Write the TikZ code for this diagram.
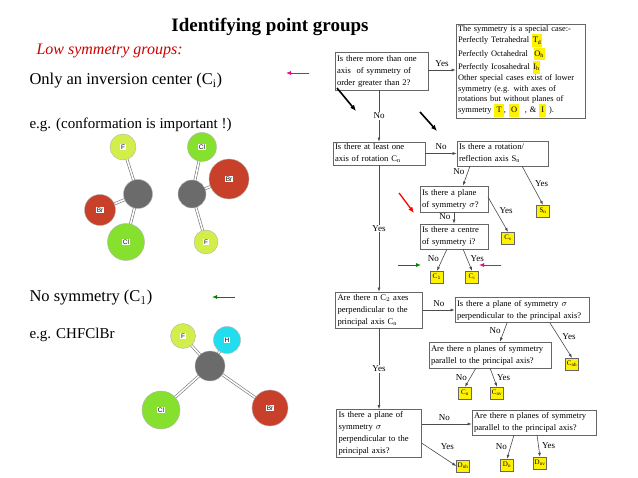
\documentclass[tikz,border=0pt]{standalone}
\usepackage{fontspec}
\setmainfont{Liberation Serif}
\newfontfamily\sansf{Liberation Sans}
\usetikzlibrary{arrows.meta}
\definecolor{brc}{HTML}{C8402A}
\definecolor{clc}{HTML}{86E02E}
\definecolor{fc}{HTML}{D2EE4A}
\definecolor{hc}{HTML}{22DDEE}
\newcommand{\hlt}[1]{{\setlength{\fboxsep}{0.8pt}\colorbox{yellow}{\strut#1}}}
\newcommand{\albl}[1]{{\setlength{\fboxsep}{0.6pt}\colorbox{white}{#1}}}
\hyphenpenalty=10000
\exhyphenpenalty=10000
\begin{document}
\begin{tikzpicture}[x=1pt,y=-1pt,
  box/.style={draw=black!60,line width=0.8pt,fill=white,align=left,inner xsep=2pt,inner ysep=2pt,text width=#1-4pt,font=\fontsize{8.6}{12}\selectfont},
  ybox/.style={draw=black!60,fill=yellow,inner sep=1.2pt,minimum width=13,minimum height=12,font=\fontsize{7}{8}\selectfont},
  lab/.style={font=\fontsize{9}{10}\selectfont},
  arr/.style={draw=black!70,line width=0.6pt,-{Latex[length=4pt,width=3pt]}},
  big/.style={-{Latex[length=6pt,width=5pt]},line width=1.6pt},
  carr/.style={line width=0.9pt,-{Latex[length=5pt,width=4pt]}},
  atom/.style={circle,draw=black!30,line width=0.4pt,font=\sansf\fontsize{6.5}{7}\selectfont,inner sep=0},
  bond/.style={double=white,draw=black!55,double distance=1.6pt,line width=0.6pt}]
\useasboundingbox (0,0) rectangle (638,478);
\fill[white] (0,0) rectangle (638,478);
% left texts
\node[font=\bfseries\fontsize{19}{22}\selectfont] (title) at (270,27) {Identifying point groups};
\node[anchor=west,text=red!80!black,font=\itshape\fontsize{16}{18}\selectfont] (low) at (33,51) {Low symmetry groups:};
\node[anchor=west,font=\fontsize{16.5}{19}\selectfont] (ci) at (26,81) {Only an inversion center (C$_\mathrm{i}$)};
\node[anchor=west,font=\fontsize{15}{18}\selectfont] (eg1) at (26,125) {e.g. (conformation is important !)};
\node[anchor=west,font=\fontsize{16.5}{19}\selectfont] (c1) at (26,298) {No symmetry (C$_1$)};
\node[anchor=west,font=\fontsize{15}{18}\selectfont] (eg2) at (26,335) {e.g. CHFClBr};
\coordinate (ma1) at (309,73); \coordinate (ma2) at (286,73);
\draw[magenta,carr] (ma1) -- (ma2);
\coordinate (ga1) at (235,297); \coordinate (ga2) at (212,297);
\draw[green!50!black,carr] (ga1) -- (ga2);
% molecule 1
\coordinate (m1c1) at (138,194); \coordinate (m1c2) at (192,194);
\coordinate (m1f) at (123,147); \coordinate (m1cl) at (202,147); \coordinate (m1br) at (229,179);
\coordinate (m1brl) at (100,210); \coordinate (m1clb) at (126,242); \coordinate (m1fb) at (206,242);
\foreach \a/\b in {m1c1/m1c2,m1c1/m1f,m1c1/m1brl,m1c1/m1clb,m1c2/m1cl,m1c2/m1br,m1c2/m1fb} \draw[bond] (\a) -- (\b);
\node[atom,fill=black!58,minimum size=29] (A1) at (m1c1) {};
\node[atom,fill=black!58,minimum size=28] (A2) at (m1c2) {};
\node[atom,fill=fc,minimum size=26] (A3) at (m1f) {\albl{F}};
\node[atom,fill=clc,minimum size=29] (A4) at (m1cl) {\albl{Cl}};
\node[atom,fill=brc,minimum size=40] (A5) at (m1br) {\albl{Br}};
\node[atom,fill=brc,minimum size=31] (A6) at (m1brl) {\albl{Br}};
\node[atom,fill=clc,minimum size=37] (A7) at (m1clb) {\albl{Cl}};
\node[atom,fill=fc,minimum size=24] (A8) at (m1fb) {\albl{F}};
% molecule 2
\coordinate (m2c) at (210,366); \coordinate (m2f) at (183,336); \coordinate (m2h) at (227,340);
\coordinate (m2cl) at (161,410); \coordinate (m2br) at (270,408);
\foreach \b in {m2f,m2h,m2cl,m2br} \draw[bond] (m2c) -- (\b);
\node[atom,fill=black!58,minimum size=30] (B1) at (m2c) {};
\node[atom,fill=fc,minimum size=25] (B2) at (m2f) {\albl{F}};
\node[atom,fill=hc,minimum size=27] (B3) at (m2h) {\albl{H}};
\node[atom,fill=clc,minimum size=38] (B4) at (m2cl) {\albl{Cl}};
\node[atom,fill=brc,minimum size=36] (B5) at (m2br) {\albl{Br}};
% flowchart boxes
\node[box=93pt,minimum height=38] (q1) at (381.5,71) {Is there more than one\\axis\ \ of symmetry of\\order greater than 2?};
\node[box=129pt,minimum height=89,font=\fontsize{8.4}{10.8}\selectfont] (sp) at (520.5,71.5) {The symmetry is a special case:-\\Perfectly Tetrahedral \hlt{T$_\mathrm{d}$}\\Perfectly Octahedral\ \ \hlt{O$_\mathrm{h}$}\\Perfectly Icosahedral\ \hlt{I$_\mathrm{h}$}\\Other special cases exist of lower\\symmetry (e.g. with axes of\\rotations but without planes of\\symmetry \hlt{\,T\,}, \hlt{\,O\,}\ \ , \& \hlt{\,I\,} ).};
\node[box=92pt,minimum height=23] (q2) at (379,153.5) {Is there at least one\\axis of rotation C$_\mathrm{n}$};
\node[box=91pt,minimum height=25] (q3) at (502.5,153.5) {Is there a rotation/\\reflection axis S$_\mathrm{n}$};
\node[box=68pt,minimum height=26] (q4) at (454,199) {Is there a plane\\of symmetry $\sigma$?};
\node[box=68pt,minimum height=25] (q5) at (454,236.5) {Is there a centre\\of symmetry i?};
\node[box=87pt,minimum height=36] (q6) at (379,310) {Are there n C$_2$ axes\\perpendicular to the\\principal axis C$_\mathrm{n}$};
\node[box=134pt,minimum height=25] (q7) at (522,310) {Is there a plane of symmetry $\sigma$\\perpendicular to the principal axis?};
\node[box=122pt,minimum height=26] (q8) at (490,355) {Are there n planes of symmetry\\parallel to the principal axis?};
\node[box=85pt,minimum height=47] (q9) at (379,433.5) {Is there a plane of\\symmetry $\sigma$\\perpendicular to the\\principal axis?};
\node[box=124pt,minimum height=25] (q10) at (534,422.5) {Are there n planes of symmetry\\parallel to the principal axis?};
% answer boxes
\node[ybox] (sn) at (543,211) {S$_\mathrm{n}$};
\node[ybox] (cs) at (508,238) {C$_\mathrm{s}$};
\node[ybox] (c1b) at (437,277) {C$_1$};
\node[ybox] (cib) at (472,277) {C$_\mathrm{i}$};
\node[ybox] (cnh) at (572,364) {C$_\mathrm{nh}$};
\node[ybox] (cn) at (465,393) {C$_\mathrm{n}$};
\node[ybox] (cnv) at (497,393) {C$_\mathrm{nv}$};
\node[ybox] (dnh) at (463,466) {D$_\mathrm{nh}$};
\node[ybox] (dn) at (507,465) {D$_\mathrm{n}$};
\node[ybox] (dnv) at (540,463) {D$_\mathrm{nv}$};
% connectors
\draw[arr] (q1.east |- 0,70) -- node[lab,above]{Yes} (sp.west |- 0,70);
\draw[arr] (q1.south -| q2.north) -- node[lab,fill=white,inner sep=1pt]{No} (q2.north);
\draw[arr] (q2.east) -- node[lab,above]{No} (q3.west);
\draw[arr] (q2.south) -- node[lab,fill=white,inner sep=1pt]{Yes} (q6.north);
\draw[arr] (470,166) -- node[lab,left,pos=0.3]{No} (q4.north -| 463,0);
\draw[arr] (522,166) -- node[lab,right,pos=0.45]{Yes} (sn.north);
\draw[arr] (q4.south) -- node[lab,left,pos=0.4]{No} (q5.north);
\draw[arr] (488,197) -- node[lab,right,pos=0.4]{Yes} (cs.north);
\draw[arr] (447,249) -- node[lab,left,pos=0.45]{No} (c1b.north);
\draw[arr] (463,249) -- node[lab,right,pos=0.45]{Yes} (cib.north);
\draw[arr] (q6.east |- 0,310) -- node[lab,above]{No} (q7.west);
\draw[arr] (507,323) -- node[lab,left,pos=0.4]{No} (q8.north -| 500,0);
\draw[arr] (550,323) -- node[lab,right,pos=0.4]{Yes} (cnh.north);
\draw[arr] (476,368) -- node[lab,left,pos=0.5]{No} (cn.north);
\draw[arr] (490,368) -- node[lab,right,pos=0.5]{Yes} (cnv.north);
\draw[arr] (q6.south) -- node[lab,fill=white,inner sep=1pt]{Yes} (q9.north);
\draw[arr] (q9.east |- 0,424) -- node[lab,above,pos=0.45]{No} (q10.west |- 0,424);
\draw[arr] (421.5,443) -- node[lab,above right,pos=0.45]{Yes} (dnh.west);
\draw[arr] (514,435) -- node[lab,left,pos=0.5]{No} (dn.north);
\draw[arr] (537,435) -- node[lab,right,pos=0.5]{Yes} (dnv.north);
% pointer arrows
\coordinate (k1) at (337,88); \coordinate (k2) at (356,111);
\draw[big] (k1) -- (k2);
\coordinate (k3) at (420,112); \coordinate (k4) at (437,131);
\draw[big] (k3) -- (k4);
\coordinate (r1) at (399,193); \coordinate (r2) at (414,213);
\draw[big,red,line width=1.3pt] (r1) -- (r2);
\coordinate (g1) at (398,265); \coordinate (g2) at (421,265);
\draw[green!50!black,carr] (g1) -- (g2);
\coordinate (p1) at (501,265); \coordinate (p2) at (479,265);
\draw[magenta,carr] (p1) -- (p2);
\end{tikzpicture}
\end{document}
